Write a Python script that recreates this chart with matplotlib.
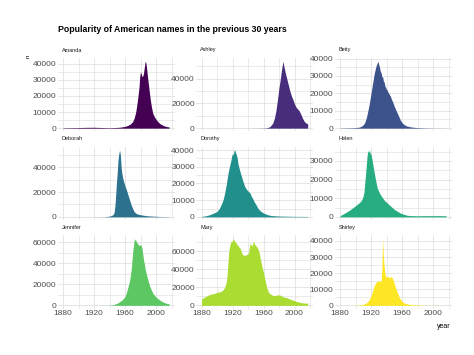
import matplotlib
matplotlib.use('Agg')
import matplotlib.pyplot as plt
from matplotlib.ticker import MultipleLocator, FuncFormatter

# yearly counts (female babies, USA)
amanda_years = [1880, 1890, 1900, 1910, 1920, 1930, 1940, 1950, 1955, 1960, 1964, 1967,
                1970, 1972, 1974, 1976, 1978, 1979, 1980, 1981, 1982, 1983, 1984, 1985,
                1986, 1987, 1988, 1989, 1990, 1991, 1992, 1993, 1994, 1995, 1996, 1998,
                2000, 2003, 2006, 2010, 2014, 2017]
amanda_n = [241, 300, 380, 500, 550, 400, 300, 450, 700, 1100, 1800, 2600,
            4200, 6500, 10500, 17000, 25000, 32000, 35000, 33500, 32000, 32500, 34500, 38000,
            41500, 40500, 36500, 32000, 28000, 24000, 20000, 16500, 13500, 11000, 9000, 7000,
            5500, 3700, 2500, 1500, 950, 700]

ashley_years = [1880, 1940, 1955, 1960, 1964, 1966, 1968, 1970, 1972, 1974, 1976, 1978,
                1980, 1982, 1983, 1984, 1985, 1986, 1987, 1988, 1990, 1992, 1994, 1996,
                1998, 2000, 2002, 2004, 2006, 2008, 2010, 2012, 2014, 2017]
ashley_n = [0, 20, 80, 150, 300, 600, 1200, 2500, 4200, 8000, 14000, 23000,
            33000, 41000, 46000, 50000, 54000, 51000, 48000, 45000, 40000, 35000, 30000, 26000,
            23000, 19500, 17000, 15500, 14000, 11500, 8500, 6000, 4500, 3400]

betty_years = [1880, 1895, 1900, 1905, 1908, 1910, 1912, 1914, 1916, 1918, 1920, 1922,
               1924, 1926, 1928, 1929, 1930, 1931, 1932, 1933, 1934, 1935, 1936, 1937,
               1938, 1939, 1940, 1941, 1942, 1943, 1944, 1945, 1946, 1948, 1950, 1952,
               1954, 1956, 1958, 1960, 1962, 1965, 1970, 1975, 1980, 1990, 2000, 2017]
betty_n = [120, 250, 350, 600, 1200, 2000, 3300, 6000, 10000, 14500, 20000, 25500,
           31000, 35000, 37500, 38400, 36500, 35000, 32500, 32000, 29500, 29500, 27000, 26500,
           24000, 23500, 22000, 22000, 20500, 20000, 19000, 18500, 17000, 15000, 12500, 10500,
           8500, 6500, 4500, 3200, 2300, 1400, 800, 500, 300, 150, 60, 20]

deborah_years = [1880, 1920, 1930, 1935, 1940, 1943, 1945, 1946, 1947, 1948,
                 1949, 1950, 1951, 1952, 1953, 1954, 1955, 1956, 1957, 1958,
                 1960, 1962, 1964, 1966, 1968, 1970, 1972, 1975, 1980, 1985,
                 1990, 2000, 2010, 2017]
deborah_n = [0, 30, 100, 250, 600, 1200, 2200, 3800, 9000, 18000,
             28000, 36000, 46000, 51000, 54000, 50000, 40000, 35000, 31500, 29000,
             25000, 21500, 17500, 13500, 9500, 6500, 4000, 2500, 1700, 1200,
             800, 450, 200, 150]

dorothy_years = [1880, 1885, 1890, 1895, 1900, 1903, 1906, 1908, 1910, 1912,
                 1914, 1916, 1918, 1919, 1920, 1921, 1922, 1923, 1924, 1925,
                 1926, 1927, 1928, 1930, 1932, 1934, 1936, 1938, 1940, 1942,
                 1943, 1944, 1946, 1948, 1950, 1953, 1956, 1960, 1965, 1970,
                 1980, 1990, 2000, 2017]
dorothy_n = [250, 600, 1200, 2100, 3300, 5000, 8000, 10500, 14500, 19500,
             25500, 30000, 34000, 36500, 38000, 37000, 39500, 40000, 38500, 37000,
             35500, 32000, 30000, 26500, 23500, 20500, 18000, 16500, 15500, 14500,
             14000, 12500, 11000, 9000, 7500, 5000, 3500, 2300, 1300, 800,
             500, 400, 300, 250]

helen_years = [1880, 1884, 1888, 1892, 1896, 1900, 1904, 1907, 1909, 1910,
               1911, 1912, 1913, 1914, 1915, 1916, 1917, 1918, 1919, 1920,
               1921, 1922, 1924, 1926, 1928, 1930, 1932, 1934, 1936, 1938,
               1940, 1942, 1944, 1946, 1948, 1950, 1954, 1958, 1962, 1966,
               1970, 1980, 1990, 2000, 2010, 2017]
helen_n = [650, 1500, 2500, 3500, 4700, 6000, 7300, 8500, 10000, 11500,
           13500, 18500, 23000, 28000, 33000, 35500, 34500, 35800, 34000, 33500,
           31500, 29000, 24000, 19500, 15500, 13500, 12000, 10800, 9500, 8500,
           7800, 7000, 6200, 5500, 4800, 4000, 3000, 2000, 1400, 900,
           700, 600, 650, 650, 650, 600]

jennifer_years = [1880, 1920, 1935, 1940, 1945, 1950, 1953, 1956, 1958, 1960,
                  1962, 1964, 1966, 1968, 1969, 1970, 1971, 1972, 1973, 1974,
                  1975, 1976, 1977, 1978, 1979, 1980, 1981, 1982, 1983, 1984,
                  1985, 1986, 1988, 1990, 1992, 1994, 1996, 1998, 2000, 2003,
                  2006, 2010, 2014, 2017]
jennifer_n = [0, 10, 30, 150, 600, 2000, 3500, 5000, 6500, 8500,
              12500, 18000, 24000, 34000, 43000, 52000, 57000, 63600, 62000, 62500,
              59000, 60000, 57500, 57000, 57500, 58000, 56500, 54000, 48000, 43000,
              39000, 34500, 28500, 23000, 18000, 14500, 11500, 9500, 8000, 6000,
              4500, 2800, 1800, 1500]

mary_years = [1880, 1884, 1888, 1892, 1896, 1900, 1904, 1907, 1910, 1912,
              1913, 1914, 1915, 1916, 1917, 1918, 1919, 1920, 1921, 1922,
              1923, 1924, 1926, 1928, 1930, 1932, 1934, 1936, 1938, 1940,
              1941, 1942, 1943, 1944, 1945, 1946, 1947, 1948, 1950, 1952,
              1954, 1956, 1958, 1960, 1962, 1964, 1966, 1968, 1970, 1972,
              1975, 1978, 1981, 1984, 1987, 1990, 1994, 1998, 2002, 2006,
              2010, 2014, 2017]
mary_n = [7065, 9200, 11000, 12500, 13000, 14500, 15000, 16500, 20000, 26000,
          33000, 45000, 58000, 64000, 68000, 71000, 70000, 72000, 74000, 72000,
          71000, 69500, 67500, 65000, 63000, 57500, 55500, 55500, 56000, 57000,
          59500, 66000, 69000, 67000, 65500, 68000, 71000, 68500, 66000, 64000,
          60000, 51000, 43000, 36000, 28000, 20000, 15500, 13000, 12000, 11000,
          11000, 11500, 11500, 10000, 9000, 8500, 7000, 5800, 4500, 3500,
          2800, 2500, 2400]

shirley_years = [1880, 1895, 1900, 1905, 1910, 1914, 1917, 1920, 1922, 1924,
                 1926, 1928, 1930, 1932, 1933, 1934, 1935, 1936, 1937, 1938,
                 1939, 1940, 1942, 1944, 1946, 1948, 1950, 1952, 1954, 1956,
                 1958, 1960, 1962, 1965, 1970, 1980, 1990, 2000, 2017]
shirley_n = [0, 30, 80, 250, 600, 1500, 3000, 6000, 9000, 12000,
             14000, 15000, 15500, 14500, 15500, 22500, 41500, 30000, 24000, 20000,
             18000, 17500, 18000, 17000, 18000, 16500, 13500, 10500, 8000, 5500,
             3800, 2500, 1700, 1100, 600, 250, 100, 50, 20]

names = ['Amanda', 'Ashley', 'Betty', 'Deborah', 'Dorothy', 'Helen', 'Jennifer', 'Mary', 'Shirley']
series = [(amanda_years, amanda_n), (ashley_years, ashley_n), (betty_years, betty_n),
          (deborah_years, deborah_n), (dorothy_years, dorothy_n), (helen_years, helen_n),
          (jennifer_years, jennifer_n), (mary_years, mary_n), (shirley_years, shirley_n)]
colors = ['#440154', '#472D7B', '#3B528B', '#2C728E', '#21908C',
          '#27AD81', '#5DC863', '#AADC32', '#FDE725']
ystep = [10000, 20000, 10000, 20000, 10000, 10000, 20000, 20000, 10000]

W, H = 474, 355
fig = plt.figure(figsize=(W / 100, H / 100), dpi=100)
plt.rcParams['font.family'] = ['Liberation Sans', 'DejaVu Sans']

col_left = [57.7, 196.2, 334.7]
row_top = [58, 146.7, 235.2]
pw, ph = 116.8, 73.5
grid_col = '#dcdcdc'

for i, name in enumerate(names):
    r, c = divmod(i, 3)
    ax = fig.add_axes([col_left[c] / W, 1 - (row_top[r] + ph) / H, pw / W, ph / H])
    yrs, n = series[i]
    ax.fill_between(yrs, n, 0, color=colors[i], linewidth=0)
    top = max(n)
    ax.set_xlim(1880 - 0.05 * 137, 2017 + 0.05 * 137)
    ax.set_ylim(-0.05 * top, 1.05 * top)
    ax.xaxis.set_major_locator(MultipleLocator(40))
    ax.xaxis.set_minor_locator(MultipleLocator(20))
    ax.yaxis.set_major_locator(MultipleLocator(ystep[i]))
    ax.yaxis.set_minor_locator(MultipleLocator(ystep[i] / 2))
    ax.yaxis.set_major_formatter(FuncFormatter(lambda v, p: f'{v:.0f}'))
    ax.grid(which='major', color=grid_col, linewidth=0.5)
    ax.grid(which='minor', color=grid_col, linewidth=0.4)
    ax.set_axisbelow(True)
    for s in ax.spines.values():
        s.set_visible(False)
    ax.tick_params(which='both', length=0, labelsize=6, labelcolor='#4d4d4d', pad=1)
    if r < 2:
        ax.tick_params(axis='x', labelbottom=False)
    ax.text(4 / pw, 1 + 8 / ph, name, transform=ax.transAxes, ha='left', va='center',
            fontsize=4, color='#1a1a1a')

fig.text(58 / W, 1 - 29 / H, 'Popularity of American names in the previous 30 years',
         ha='left', va='center', fontsize=6.35, fontweight='bold')
fig.text(28 / W, 1 - 55 / H, 'n', rotation=90, ha='center', va='top', fontsize=4.5)
fig.text(451 / W, 1 - 327 / H, 'year', ha='right', va='center', fontsize=5)

fig.savefig('out.png', dpi=100)
